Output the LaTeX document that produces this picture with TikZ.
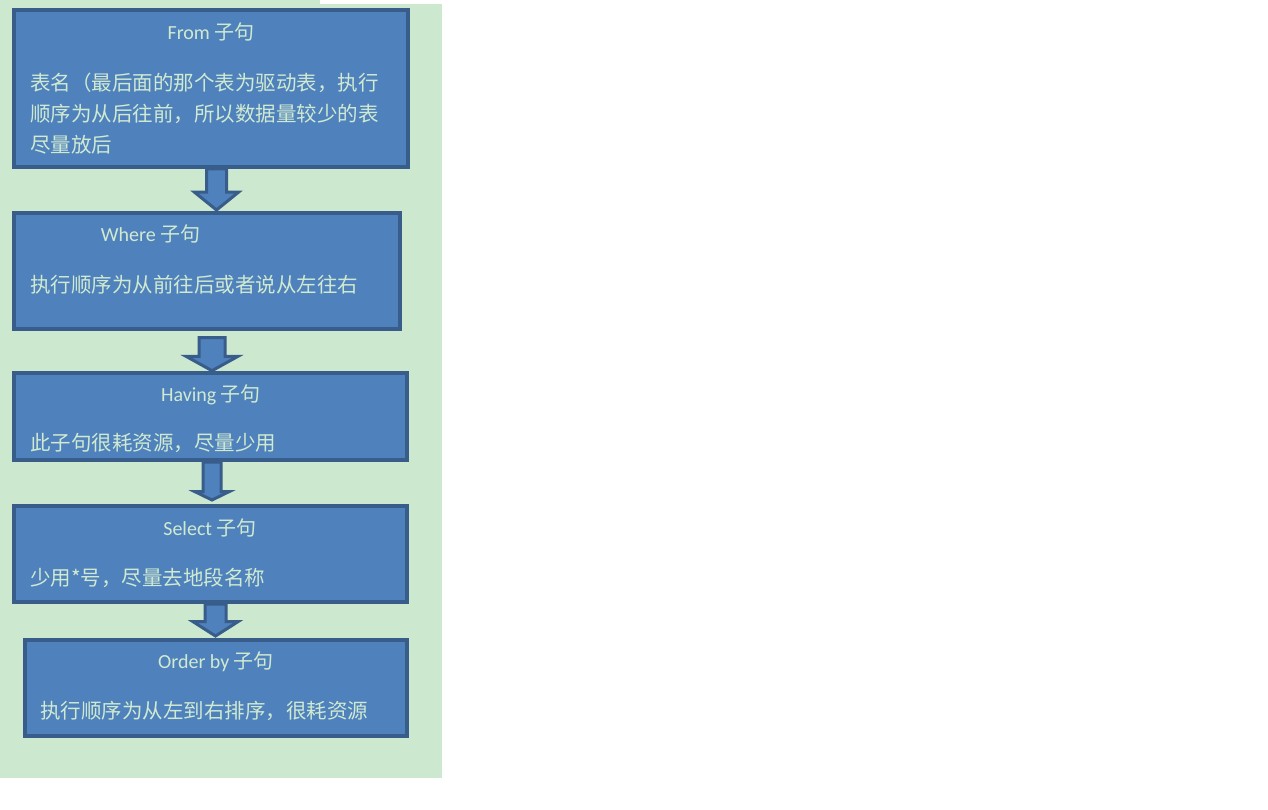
\documentclass[tikz,border=0pt]{standalone}
\usepackage{fontspec}
\usepackage{xcolor}
\usepackage{tikz}
\usetikzlibrary{shapes,arrows,positioning,calc}
\newfontfamily\cjk{Noto Sans CJK SC}
\newfontfamily\latin{Carlito}
\definecolor{bggreen}{HTML}{CCE8CF}
\definecolor{boxblue}{HTML}{4F81BD}
\definecolor{boxline}{HTML}{385D8A}
\definecolor{textgreen}{HTML}{D0EAD0}

\begin{document}
\begin{tikzpicture}[x=1pt, y=-1pt,
    clause/.style={draw=boxline, fill=boxblue, line width=4pt, inner sep=0pt},
    title/.style={text=textgreen, inner sep=0pt, anchor=base, font=\fontsize{20pt}{24pt}\selectfont\cjk},
    body/.style={text=textgreen, inner sep=0pt, anchor=base west, align=left, font=\fontsize{20.5pt}{31pt}\selectfont\cjk},
    flow/.style={single arrow, shape border rotate=270, draw=boxline, fill=boxblue, line width=3pt, outer sep=0pt, anchor=tail}
]
    \useasboundingbox (0,0) rectangle (1268,810);
    \fill[bggreen] (0,0) rectangle (442,778);
    \fill[white] (320,0) rectangle (442,4);

    % the five clauses
    \node[clause, minimum width=394pt, minimum height=157pt] (from) at (211,88.5) {};
    \node[clause, minimum width=386pt, minimum height=116pt] (where) at (207,271) {};
    \node[clause, minimum width=393pt, minimum height=87pt] (having) at (210.5,416.5) {};
    \node[clause, minimum width=393pt, minimum height=96pt] (select) at (210.5,554) {};
    \node[clause, minimum width=382pt, minimum height=96pt] (order) at (216,688) {};

    % block arrows between them
    \node[flow, inner sep=8.5pt, minimum height=41pt, minimum width=41pt, single arrow head extend=12pt, single arrow tip angle=102] (fromwhere) at ([xshift=5.5pt]from.south) {};
    \node[flow, inner sep=11.5pt, minimum height=30.5pt, minimum width=49pt, single arrow head extend=13pt, single arrow tip angle=122] (wherehaving) at ([xshift=5pt, yshift=-6.5pt]where.south) {};
    \node[flow, inner sep=7.5pt, minimum height=38pt, minimum width=31pt, single arrow head extend=8pt, single arrow tip angle=128] (havingselect) at ([xshift=1.5pt]having.south) {};
    \node[flow, inner sep=9pt, minimum height=32pt, minimum width=42pt, single arrow head extend=12pt, single arrow tip angle=115] (selectorder) at ([xshift=5pt]select.south) {};

    % titles
    \node[title] (fromtitle) at (211,40) {{\latin From} 子句};
    \node[title] (wheretitle) at (150.5,241.5) {{\latin Where} 子句};
    \node[title] (havingtitle) at (211,401.5) {{\latin Having} 子句};
    \node[title] (selecttitle) at (210,535) {{\latin Select} 子句};
    \node[title] (ordertitle) at (216,668.3) {{\latin Order by} 子句};

    % texts
    \node[body] (frombody) at (30,152.6) {表名（最后面的那个表为驱动表，执行\\顺序为从后往前，所以数据量较少的表\\尽量放后};
    \node[body] (wherebody) at (30,292.6) {执行顺序为从前往后或者说从左往右};
    \node[body] (havingbody) at (30,450.6) {此子句很耗资源，尽量少用};
    \node[body] (selectbody) at (30,585.6) {少用*号，尽量去地段名称};
    \node[body] (orderbody) at (40,718.6) {执行顺序为从左到右排序，很耗资源};
\end{tikzpicture}
\end{document}
